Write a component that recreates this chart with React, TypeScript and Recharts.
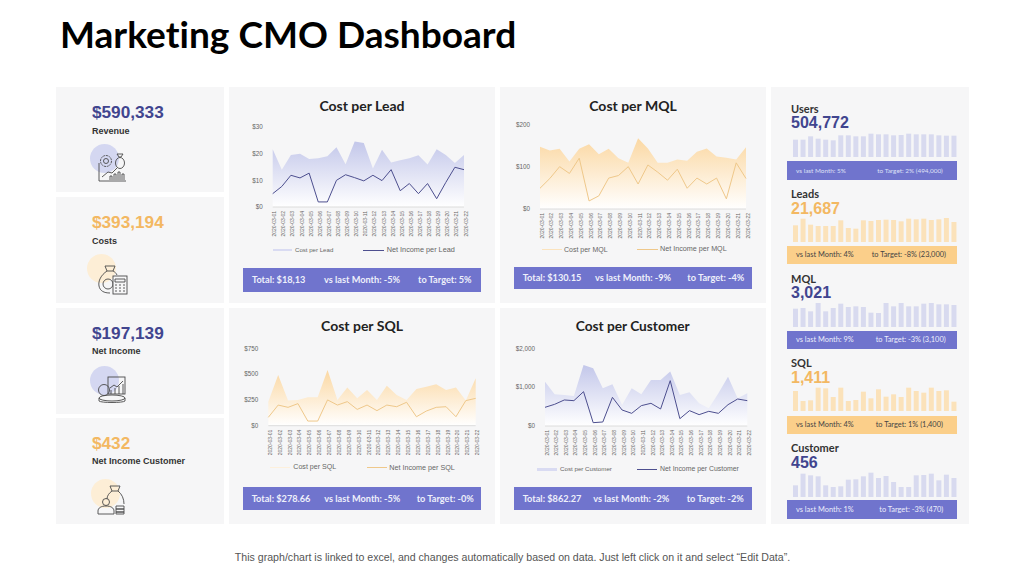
import React from 'react';
import { ComposedChart, Area, Line, XAxis, YAxis, BarChart, Bar } from 'recharts';

const dates = ['2020-03-01', '2020-03-02', '2020-03-03', '2020-03-04', '2020-03-05', '2020-03-06', '2020-03-07', '2020-03-08', '2020-03-09', '2020-03-10', '2020-03-11', '2020-03-12', '2020-03-13', '2020-03-14', '2020-03-15', '2020-03-16', '2020-03-17', '2020-03-18', '2020-03-19', '2020-03-20', '2020-03-21', '2020-03-22'];

const costPerLead = [21.7, 14, 19.5, 20, 18, 18.3, 19, 22.4, 16, 24.6, 24, 14.4, 21.5, 16.7, 17.5, 18.3, 19.4, 15.9, 21.7, 19.5, 16.5, 19.5];
const netPerLead = [5, 7.7, 11.9, 10.9, 12.7, 1.9, 1.9, 10, 12.1, 11, 9.8, 11.9, 9.9, 14, 6.1, 8.8, 5, 8.8, 3.1, 9.2, 14.9, 14];
const costPerMql = [147, 138, 142, 112, 142, 153, 129, 142, 120, 109, 167, 143, 109, 109, 117, 114, 135, 143, 124, 121, 117, 146];
const netPerMql = [49, 72, 100, 84, 120, 19, 31, 73, 79, 100, 59, 104, 87, 68, 94, 49, 73, 59, 73, 24, 109, 72];
const costPerSql = [233, 492, 243, 250, 275, 275, 540, 250, 369, 265, 346, 250, 388, 298, 250, 356, 378, 401, 346, 369, 243, 459];
const netPerSql = [81, 200, 178, 214, 45, 45, 250, 200, 233, 158, 200, 146, 200, 184, 227, 87, 142, 178, 184, 87, 243, 265];
const costPerCustomer = [1142, 815, 798, 773, 1570, 1485, 970, 1073, 540, 970, 815, 1185, 1185, 1400, 798, 867, 584, 455, 841, 1270, 712, 841];
const netPerCustomer = [481, 558, 670, 652, 884, 86, 103, 738, 412, 326, 524, 584, 438, 1167, 189, 395, 292, 378, 326, 549, 695, 652];

const usersBars = [52, 52, 62, 55, 52, 50, 65, 65, 62, 62, 70, 68, 68, 65, 66, 70, 68, 68, 68, 65, 64, 64];
const leadsBars = [50, 70, 52, 48, 48, 48, 65, 42, 40, 65, 63, 66, 67, 66, 62, 70, 68, 70, 66, 68, 72, 60];
const mqlBars = [55, 57, 47, 72, 47, 57, 70, 60, 62, 60, 43, 42, 72, 62, 72, 62, 62, 70, 72, 68, 68, 66];
const sqlBars = [60, 30, 32, 70, 68, 42, 70, 30, 33, 58, 38, 65, 43, 50, 42, 70, 60, 55, 70, 60, 62, 28];
const customerBars = [35, 70, 65, 62, 35, 30, 32, 52, 53, 62, 73, 57, 63, 45, 30, 30, 65, 66, 70, 50, 67, 57];

const PANEL = '#f6f6f7';
const BLUE = '#7074cd';
const NAVY = '#41458f';
const ORANGE = '#f3b862';
const ORANGE_LINE = '#efc88a';
const HEAD = "Lato, 'Noto Sans', sans-serif";
const ARIAL = "'Liberation Sans', Arial, sans-serif";

function toRows(area: number[], line: number[]) {
  return dates.map((date, i) => ({ date, area: area[i], line: line[i] }));
}
function toBars(values: number[]) {
  return values.map((v, i) => ({ date: dates[i], v }));
}

function Txt({ x, y, size, color = '#222', weight = 400, font = ARIAL, center, children }: any) {
  return (
    <div style={{ position: 'absolute', left: x, top: y, transform: center ? 'translate(-50%,-50%)' : 'translateY(-50%)', fontSize: size, color, fontWeight: weight, fontFamily: font, lineHeight: 1, whiteSpace: 'nowrap', fontVariantLigatures: 'none' }}>
      {children}
    </div>
  );
}

function Box({ x, y, w, h, color = PANEL }: any) {
  return <div style={{ position: 'absolute', left: x, top: y, width: w, height: h, background: color }} />;
}

function Swatch({ x, y, w, color, thick = 1 }: any) {
  return <div style={{ position: 'absolute', left: x, top: y - thick / 2, width: w, height: thick, background: color }} />;
}

function CostChart({ id, left, top, plot, max, ticks, rows, fill, lineColor, prefixK }: any) {
  const W = 266;
  const H = 216;
  const axisW = 30;
  const xH = 40;
  return (
    <div style={{ position: 'absolute', left, top }}>
      <ComposedChart
        width={W}
        height={H}
        data={rows}
        margin={{ left: plot.x0 - left - axisW, right: left + W - plot.x1, top: plot.y0 - top, bottom: top + H - plot.y1 - xH }}
      >
        <defs>
          <linearGradient id={id} x1="0" y1="0" x2="0" y2="1">
            <stop offset="0%" stopColor={fill} />
            <stop offset="100%" stopColor="#ffffff" />
          </linearGradient>
        </defs>
        <XAxis dataKey="date" scale="point" interval={0} height={xH} angle={-90} textAnchor="end" tickLine={false} tickSize={0} tickMargin={4} axisLine={{ stroke: '#dcdcdc' }} tick={{ fontSize: 5, fill: '#666', fontFamily: ARIAL }} />
        <YAxis width={axisW} domain={[0, max]} ticks={ticks} axisLine={false} tickLine={false} tickMargin={4} tick={{ fontSize: 6.3, fill: '#666', fontFamily: ARIAL }} tickFormatter={(v: number) => (prefixK ? `$${v.toLocaleString('en-US')}` : `$${v}`)} />
        <Area dataKey="area" type="linear" stroke="none" fill={`url(#${id})`} fillOpacity={1} dot={false} activeDot={false} isAnimationActive={false} />
        <Line dataKey="line" type="linear" stroke={lineColor} strokeWidth={1} dot={false} activeDot={false} isAnimationActive={false} />
      </ComposedChart>
    </div>
  );
}

function MiniBars({ top, values, color }: any) {
  const left = 791.5;
  const h = 25;
  return (
    <div style={{ position: 'absolute', left, top: top - h }}>
      <BarChart width={166} height={h} data={toBars(values)} margin={{ left: 0, right: 0, top: 0, bottom: 0 }} barSize={5}>
        <XAxis dataKey="date" hide />
        <YAxis hide domain={[0, 75]} />
        <Bar dataKey="v" fill={color} isAnimationActive={false} />
      </BarChart>
    </div>
  );
}

const ICON = { fill: 'none', stroke: '#4a4a4a', strokeWidth: 0.9 };

function RevenueIcon({ x, y }: any) {
  return (
    <svg style={{ position: 'absolute', left: x, top: y }} width="30" height="30" viewBox="0 0 30 30" {...ICON}>
      <circle cx="9" cy="8" r="5.5" strokeDasharray="2 0.8" />
      <circle cx="9" cy="8" r="2.5" />
      <path d="M2 10V28H29M5 24l6-5 4 1 5-5" />
      <path d="M20 1l2 3h2l2-3z" />
      <ellipse cx="23" cy="10" rx="4.5" ry="5.5" />
      <path d="M13 27v-4h2v4M17 27v-6h2v6M21 27v-8h2v8M25 27v-6h2v6" />
    </svg>
  );
}

function CostsIcon({ x, y }: any) {
  return (
    <svg style={{ position: 'absolute', left: x, top: y }} width="30" height="30" viewBox="0 0 30 30" {...ICON}>
      <path d="M7 1h10l-2 5H9zM9 6c-6 4-9 10-8 15 1 5 5 7 11 7" />
      <path d="M15 6c2 1 3 2 4 4" />
      <circle cx="10" cy="19" r="5" />
      <rect x="15" y="11" width="14" height="18" fill="#f6f6f7" />
      <path d="M17 14h10v3H17zM17 20h2M21 20h2M25 20h2M17 23h2M21 23h2M25 23h2M17 26h2M21 26h2M25 26h2" />
    </svg>
  );
}

function NetIcon({ x, y }: any) {
  return (
    <svg style={{ position: 'absolute', left: x, top: y }} width="30" height="28" viewBox="0 0 30 28" {...ICON}>
      <rect x="11" y="1" width="17" height="17" />
      <path d="M13 12l4-3 3 2 6-6M14 18v-4M18 18v-6M22 18v-8M26 18v-10" />
      <circle cx="7" cy="14" r="5.5" />
      <ellipse cx="15" cy="22" rx="13" ry="3" />
      <path d="M2 22v3c2 2 24 2 26 0v-3" />
    </svg>
  );
}

function CustomerIcon({ x, y }: any) {
  return (
    <svg style={{ position: 'absolute', left: x, top: y }} width="30" height="30" viewBox="0 0 30 30" {...ICON}>
      <path d="M13 1h10l-2 5h-6zM15 6c-3 2-5 5-5 8M21 6c4 3 6 8 6 13" />
      <circle cx="9" cy="17" r="3.5" />
      <path d="M1 29v-3c0-3 3-5 8-5s8 2 8 5v3z" />
      <path d="M19 21h8v3h-8zM19 24h8v3h-8zM19 27h8v2h-8z" />
    </svg>
  );
}

function BandText({ y, items, size = 9.2, color = '#eef0fb', weight = 700 }: any) {
  return items.map(([x, label]: any) => (
    <Txt key={label} x={x} y={y} size={size} color={color} weight={weight} font={HEAD}>{label}</Txt>
  ));
}

export default function App() {
  return (
    <div style={{ position: 'absolute', left: 0, top: 0, width: 1024, height: 576, background: '#fff', overflow: 'hidden' }}>
      <Txt x={60} y={34} size={37.1} color="#000" weight={700} font={HEAD}>Marketing CMO Dashboard</Txt>

      <Box x={56} y={87} w={168} h={105} />
      <Box x={56} y={197} w={168} h={106} />
      <Box x={56} y={308} w={168} h={106} />
      <Box x={56} y={418} w={168} h={106} />
      <Box x={229} y={87} w={266} h={216} />
      <Box x={500} y={87} w={266} h={216} />
      <Box x={229} y={308} w={266} h={216} />
      <Box x={500} y={308} w={266} h={216} />
      <Box x={771} y={87} w={198} h={437} />

      <Txt x={92} y={113} size={17.2} color={NAVY} weight={700}>$590,333</Txt>
      <Txt x={92} y={131} size={9} color="#333" weight={700}>Revenue</Txt>
      <div style={{ position: 'absolute', left: 89.5, top: 143.5, width: 29, height: 29, borderRadius: '50%', background: '#d4d7f1' }} />
      <RevenueIcon x={97} y={153} />

      <Txt x={92} y={222.5} size={17.2} color={ORANGE} weight={700}>$393,194</Txt>
      <Txt x={92} y={241} size={9} color="#333" weight={700}>Costs</Txt>
      <div style={{ position: 'absolute', left: 87, top: 253.5, width: 29, height: 29, borderRadius: '50%', background: '#fdeed6' }} />
      <CostsIcon x={98} y={265} />

      <Txt x={92} y={334} size={17.2} color={NAVY} weight={700}>$197,139</Txt>
      <Txt x={92} y={351} size={9} color="#333" weight={700}>Net Income</Txt>
      <div style={{ position: 'absolute', left: 89.5, top: 365.5, width: 29, height: 29, borderRadius: '50%', background: '#d4d7f1' }} />
      <NetIcon x={97} y={376} />

      <Txt x={92} y={444} size={17.2} color={ORANGE} weight={700}>$432</Txt>
      <Txt x={92} y={461} size={9} color="#333" weight={700}>Net Income Customer</Txt>
      <div style={{ position: 'absolute', left: 90.5, top: 479, width: 29, height: 29, borderRadius: '50%', background: '#fdeed6' }} />
      <CustomerIcon x={97} y={485} />

      <Txt x={362} y={106} size={14} weight={700} font={HEAD} center>Cost per Lead</Txt>
      <Txt x={633} y={106} size={14} weight={700} font={HEAD} center>Cost per MQL</Txt>
      <Txt x={362} y={326} size={14} weight={700} font={HEAD} center>Cost per SQL</Txt>
      <Txt x={632.7} y={326} size={13.7} weight={700} font={HEAD} center>Cost per Customer</Txt>

      <CostChart id="gLead" left={229} top={87} plot={{ x0: 272.7, x1: 464, y0: 127, y1: 207 }} max={30} ticks={[0, 10, 20, 30]} rows={toRows(costPerLead, netPerLead)} fill="#c3c7ea" lineColor="#4d4f8f" />
      <CostChart id="gMql" left={500} top={87} plot={{ x0: 540, x1: 746, y0: 124.3, y1: 209 }} max={200} ticks={[0, 100, 200]} rows={toRows(costPerMql, netPerMql)} fill="#fbd8a3" lineColor={ORANGE_LINE} />
      <CostChart id="gSql" left={229} top={308} plot={{ x0: 268.3, x1: 475.7, y0: 348.3, y1: 425.7 }} max={750} ticks={[0, 250, 500, 750]} rows={toRows(costPerSql, netPerSql)} fill="#fbd8a3" lineColor={ORANGE_LINE} />
      <CostChart id="gCustomer" left={500} top={308} plot={{ x0: 545, x1: 747.3, y0: 348.3, y1: 426 }} max={2000} ticks={[0, 1000, 2000]} rows={toRows(costPerCustomer, netPerCustomer)} fill="#c3c7ea" lineColor="#4d4f8f" prefixK />

      <Swatch x={272.7} y={250} w={19} color="#d9dbf2" thick={1.5} />
      <Txt x={295} y={250} size={6.1} color="#666">Cost per Lead</Txt>
      <Swatch x={362.7} y={250} w={21} color="#4d4f8f" />
      <Txt x={386.7} y={250} size={7.3} color="#666">Net Income per Lead</Txt>

      <Swatch x={541.7} y={249.3} w={20} color="#fbe3bd" />
      <Txt x={564} y={249.3} size={7} color="#666">Cost per MQL</Txt>
      <Swatch x={636.7} y={249.3} w={21} color={ORANGE_LINE} />
      <Txt x={660} y={249.3} size={7.2} color="#666">Net Income per MQL</Txt>

      <Swatch x={270} y={467.7} w={20} color="#fdf0dc" />
      <Txt x={293.3} y={467.7} size={7.1} color="#666">Cost per SQL</Txt>
      <Swatch x={366.7} y={467.7} w={20} color={ORANGE_LINE} />
      <Txt x={389.3} y={467.7} size={7.2} color="#666">Net Income per SQL</Txt>

      <Swatch x={536.7} y={469.3} w={20} color="#d9dbf2" thick={2.5} />
      <Txt x={560} y={469.3} size={6.2} color="#666">Cost per Customer</Txt>
      <Swatch x={636.7} y={469.3} w={20} color="#4d4f8f" />
      <Txt x={660} y={469.3} size={6.9} color="#666">Net Income per Customer</Txt>

      <Box x={243.3} y={268.3} w={237.4} h={23.4} color={BLUE} />
      <BandText y={280} items={[[252, 'Total: $18,13'], [324, 'vs last Month: -5%'], [418, 'to Target: 5%']]} />
      <Box x={514.3} y={267.3} w={237.4} h={22} color={BLUE} />
      <BandText y={278.3} items={[[522.7, 'Total: $130.15'], [595, 'vs last Month: -9%'], [687.3, 'to Target: -4%']]} />
      <Box x={243.3} y={487} w={237.4} h={23} color={BLUE} />
      <BandText y={498.5} items={[[251.7, 'Total: $278.66'], [324.3, 'vs last Month: -5%'], [416.7, 'to Target: -0%']]} />
      <Box x={514.3} y={487} w={237.4} h={23} color={BLUE} />
      <BandText y={498.5} items={[[522.7, 'Total: $862.27'], [593.3, 'vs last Month: -2%'], [686.7, 'to Target: -2%']]} />

      <Txt x={791} y={108} size={11} weight={700} font={HEAD} color="#333">Users</Txt>
      <Txt x={791} y={123} size={16} weight={700} color={NAVY}>504,772</Txt>
      <MiniBars top={157} values={usersBars} color="#d8daef" />
      <Box x={787} y={161.3} w={170} h={18.4} color={BLUE} />
      <BandText y={170.5} size={6.4} weight={400} color="#dfe1f7" items={[[796, 'vs last Month: 5%'], [877.3, 'to Target: 2% (494,000)']]} />

      <Txt x={791} y={193} size={11} weight={700} font={HEAD} color="#333">Leads</Txt>
      <Txt x={791} y={208.7} size={16} weight={700} color={ORANGE}>21,687</Txt>
      <MiniBars top={242.3} values={leadsBars} color="#fbe2ba" />
      <Box x={787} y={245.7} w={170} h={18.4} color="#fbcf8a" />
      <BandText y={255} size={7.4} weight={400} color="#444" items={[[796, 'vs last Month: 4%'], [871.7, 'to Target: -8% (23,000)']]} />

      <Txt x={791} y={278} size={11} weight={700} font={HEAD} color="#333">MQL</Txt>
      <Txt x={791} y={293} size={16} weight={700} color={NAVY}>3,021</Txt>
      <MiniBars top={327.3} values={mqlBars} color="#d8daef" />
      <Box x={787} y={330.7} w={170} h={18} color={BLUE} />
      <BandText y={339.7} size={7.4} weight={400} color="#eceefb" items={[[796, 'vs last Month: 9%'], [875.7, 'to Target: -3% (3,100)']]} />

      <Txt x={791} y={362.3} size={11} weight={700} font={HEAD} color="#333">SQL</Txt>
      <Txt x={791} y={377.7} size={16} weight={700} color={ORANGE}>1,411</Txt>
      <MiniBars top={411.3} values={sqlBars} color="#fbe2ba" />
      <Box x={787} y={415.7} w={170} h={18} color="#fbcf8a" />
      <BandText y={424.7} size={7.4} weight={400} color="#444" items={[[796, 'vs last Month: 4%'], [875.7, 'to Target: 1% (1,400)']]} />

      <Txt x={791} y={447.3} size={11} weight={700} font={HEAD} color="#333">Customer</Txt>
      <Txt x={791} y={463.3} size={16} weight={700} color={NAVY}>456</Txt>
      <MiniBars top={496.7} values={customerBars} color="#d8daef" />
      <Box x={787} y={500} w={170} h={19} color={BLUE} />
      <BandText y={509.5} size={7.4} weight={400} color="#eceefb" items={[[796, 'vs last Month: 1%'], [879.3, 'to Target: -3% (470)']]} />

      <Txt x={512.5} y={557} size={10.6} color="#555" center>This graph/chart is linked to excel, and changes automatically based on data. Just left click on it and select “Edit Data”.</Txt>
    </div>
  );
}
